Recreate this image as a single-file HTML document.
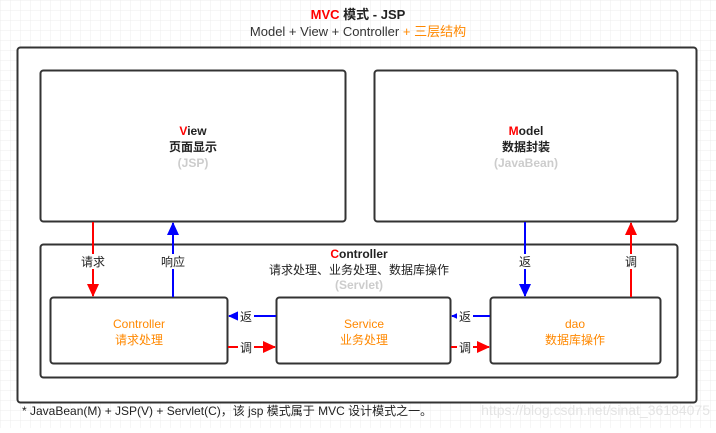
<!DOCTYPE html>
<html><head><meta charset="utf-8"><style>
body{margin:0;width:716px;height:428px;overflow:hidden;background:#fff;font-family:"Liberation Sans","Noto Sans CJK SC",sans-serif}
</style></head><body>
<svg width="716" height="428" xmlns="http://www.w3.org/2000/svg" font-family="Liberation Sans, Noto Sans CJK SC, sans-serif">
<defs>
<pattern id="g" width="10" height="10" patternUnits="userSpaceOnUse"><path d="M10 0H0V10" fill="none" stroke="#ececec" stroke-width="1"/></pattern>
<marker id="ar" markerWidth="13" markerHeight="12" refX="12" refY="6" orient="auto" markerUnits="userSpaceOnUse"><path d="M0,0L13,6L0,12z" fill="#f00"/></marker>
<marker id="ab" markerWidth="13" markerHeight="12" refX="12" refY="6" orient="auto" markerUnits="userSpaceOnUse"><path d="M0,0L13,6L0,12z" fill="#00f"/></marker>
</defs>
<rect width="716" height="428" fill="url(#g)"/>
<text x="358" y="19" text-anchor="middle" font-size="13" font-weight="bold" fill="#222"><tspan fill="#f00">MVC</tspan> 模式 - JSP</text>
<text x="358" y="36" text-anchor="middle" font-size="13" fill="#333">Model + View + Controller <tspan fill="#f80">+ 三层结构</tspan></text>
<rect x="17.5" y="47.5" width="679" height="355" rx="3" fill="#fff" stroke="#333" stroke-width="2"/>
<rect x="40.5" y="70.5" width="305" height="151" rx="3" fill="#fff" stroke="#333" stroke-width="2"/>
<text x="193" y="135" text-anchor="middle" font-size="12" font-weight="bold" fill="#222"><tspan fill="#f00">V</tspan>iew</text>
<text x="193" y="151" text-anchor="middle" font-size="12" font-weight="bold" fill="#222">页面显示</text>
<text x="193" y="167" text-anchor="middle" font-size="12" font-weight="bold" fill="#ccc">(JSP)</text>
<rect x="374.5" y="70.5" width="303" height="151" rx="3" fill="#fff" stroke="#333" stroke-width="2"/>
<text x="526" y="135" text-anchor="middle" font-size="12" font-weight="bold" fill="#222"><tspan fill="#f00">M</tspan>odel</text>
<text x="526" y="151" text-anchor="middle" font-size="12" font-weight="bold" fill="#222">数据封装</text>
<text x="526" y="167" text-anchor="middle" font-size="12" font-weight="bold" fill="#ccc">(JavaBean)</text>
<rect x="40.5" y="244.5" width="637" height="133" rx="3" fill="#fff" stroke="#333" stroke-width="2"/>
<text x="359" y="258" text-anchor="middle" font-size="12" font-weight="bold" fill="#222"><tspan fill="#f00">C</tspan>ontroller</text>
<text x="359" y="274" text-anchor="middle" font-size="12" fill="#222">请求处理、业务处理、数据库操作</text>
<text x="359" y="289" text-anchor="middle" font-size="12" font-weight="bold" fill="#ccc">(Servlet)</text>
<rect x="50.5" y="297.5" width="177" height="66" rx="3" fill="#fff" stroke="#333" stroke-width="2"/>
<text x="139" y="328" text-anchor="middle" font-size="12" fill="#f80">Controller</text>
<text x="139" y="344" text-anchor="middle" font-size="12" fill="#f80">请求处理</text>
<rect x="276.5" y="297.5" width="174" height="66" rx="3" fill="#fff" stroke="#333" stroke-width="2"/>
<text x="364" y="328" text-anchor="middle" font-size="12" fill="#f80">Service</text>
<text x="364" y="344" text-anchor="middle" font-size="12" fill="#f80">业务处理</text>
<rect x="490.5" y="297.5" width="170" height="66" rx="3" fill="#fff" stroke="#333" stroke-width="2"/>
<text x="575" y="328" text-anchor="middle" font-size="12" fill="#f80">dao</text>
<text x="575" y="344" text-anchor="middle" font-size="12" fill="#f80">数据库操作</text>
<g stroke-width="2" fill="none">
<line x1="93" y1="222" x2="93" y2="296" stroke="#f00" marker-end="url(#ar)"/>
<line x1="173" y1="297" x2="173" y2="223" stroke="#00f" marker-end="url(#ab)"/>
<line x1="525" y1="222" x2="525" y2="296" stroke="#00f" marker-end="url(#ab)"/>
<line x1="631" y1="297" x2="631" y2="223" stroke="#f00" marker-end="url(#ar)"/>
<line x1="276" y1="316" x2="229" y2="316" stroke="#00f" marker-end="url(#ab)"/>
<line x1="228" y1="347" x2="275" y2="347" stroke="#f00" marker-end="url(#ar)"/>
<line x1="490" y1="316" x2="452" y2="316" stroke="#00f" marker-end="url(#ab)"/>
<line x1="451" y1="347" x2="489" y2="347" stroke="#f00" marker-end="url(#ar)"/>
</g>
<g font-size="12" fill="#222" text-anchor="middle">
<rect x="78" y="254" width="30" height="15" fill="#fff"/><text x="93" y="266">请求</text>
<rect x="158" y="254" width="30" height="15" fill="#fff"/><text x="173" y="266">响应</text>
<rect x="517" y="254" width="16" height="15" fill="#fff"/><text x="525" y="266">返</text>
<rect x="623" y="254" width="16" height="15" fill="#fff"/><text x="631" y="266">调</text>
<rect x="238" y="309" width="16" height="15" fill="#fff"/><text x="246" y="321">返</text>
<rect x="238" y="340" width="16" height="15" fill="#fff"/><text x="246" y="352">调</text>
<rect x="457" y="309" width="16" height="15" fill="#fff"/><text x="465" y="321">返</text>
<rect x="457" y="340" width="16" height="15" fill="#fff"/><text x="465" y="352">调</text>
</g>
<text x="22" y="415" font-size="12" fill="#222">* JavaBean(M) + JSP(V) + Servlet(C)，该 jsp 模式属于 MVC 设计模式之一。</text>
<text x="710" y="415" text-anchor="end" font-size="14" fill="#e4e4e4">https://blog.csdn.net/sinat_36184075</text>
</svg>
</body></html>
